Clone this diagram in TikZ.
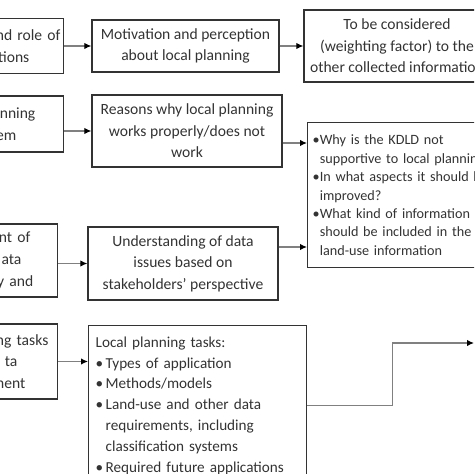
\documentclass[tikz,border=0pt]{standalone}
\usepackage{fontspec}
\setmainfont{Carlito}
\usetikzlibrary{arrows.meta, positioning}

\newcommand{\pad}[1]{\makebox[#1]{}}

\begin{document}
\begin{tikzpicture}[
        x=0.5pt, y=-0.5pt,
        box/.style={rectangle, draw=black!80, line width=0.65pt, text=black!80, align=center, inner sep=0pt, font=\fontsize{7.8}{10.8}\selectfont},
        cutbox/.style={box, anchor=east, text width=64pt, align=right},
        listbox/.style={box, align=left, anchor=north west},
        arrow/.style={draw=black!50, line width=0.6pt, -{Latex[length=3.5pt, width=3.2pt, black]}}
    ]
    \useasboundingbox (0,0) rectangle (474,474);
    \clip (0,0) rectangle (474,474);

    % Left column (cut off)
    \node (role) [cutbox, minimum height=27.5pt] at (64,46) {nd role of\pad{1.5pt}\\ tions\pad{17pt}};
    \node (sys) [cutbox, minimum height=28pt] at (64,124) {nning\pad{14pt}\\ em\pad{23.5pt}};
    \node (data) [cutbox, minimum height=36.5pt] at (58,260.5) {nt of\pad{13.5pt}\\ ata\pad{18pt}\\ y and\pad{12pt}};
    \node (tasks) [cutbox, minimum height=37.5pt] at (58,361.5) {ng tasks\pad{4.5pt}\\ ta\pad{20pt}\\ ment\pad{16pt}};

    % Middle column
    \node (motiv) [box, minimum width=93.5pt, minimum height=26pt] at (185.5,46) {Motivation and perception\\ about local planning};
    \node (reasons) [box, minimum width=95pt, minimum height=36pt] at (187,131) {Reasons why local planning\\ works properly/does not\\ work};
    \node (issues) [box, minimum width=95pt, minimum height=36.5pt] at (183,263.5) {Understanding of data\\ issues based on\\ stakeholders’ perspective};
    \node (local) [listbox, text width=102pt, inner xsep=3.5pt, minimum height=80pt, font=\fontsize{7.6}{10.4}\selectfont] at (88,325)
        {Local planning tasks:\\
         \makebox[5pt][l]{\textbullet}Types of application\\
         \makebox[5pt][l]{\textbullet}Methods/models\\
         \makebox[5pt][l]{\textbullet}Land-use and other data\\
         \hspace*{5pt}requirements, including\\
         \hspace*{5pt}classification systems\\
         \makebox[5pt][l]{\textbullet}Required future applications};

    % Right column
    \node (weight) [box, minimum width=93pt, minimum height=36pt] at (397,46) {To be considered\\ (weighting factor) to the\\ other collected information};
    \node (kdld) [listbox, text width=105.5pt, inner xsep=2.5pt, minimum height=72.5pt, font=\fontsize{7.1}{9.2}\selectfont] at (307,122)
        {\makebox[3.6pt][l]{\textbullet}Why is the KDLD not\\
         \hspace*{3.6pt}supportive to local planning\\
         \makebox[3.6pt][l]{\textbullet}In what aspects it should be\\
         \hspace*{3.6pt}improved?\\
         \makebox[3.6pt][l]{\textbullet}What kind of information\\
         \hspace*{3.6pt}should be included in the\\
         \hspace*{3.6pt}land-use information};
    \coordinate (out) at (474,343);

    % Arrows
    \draw [arrow] (role) -- (motiv);
    \draw [arrow] (motiv) -- (weight);
    \draw [arrow] (sys.east |- reasons.west) -- (reasons.west);
    \draw [arrow] ([yshift=-6pt]reasons.east) -- ([yshift=-6pt]reasons.east -| kdld.west);
    \draw [arrow] (data.east |- issues.west) -- (issues.west);
    \draw [arrow] ([yshift=8.25pt]issues.east) -- ([yshift=8.25pt]issues.east -| kdld.west);
    \draw [arrow] (tasks.east) -- (tasks.east -| local.west);
    \draw [arrow] (local.east) -- ++(85,0) |- (out);

\end{tikzpicture}
\end{document}
